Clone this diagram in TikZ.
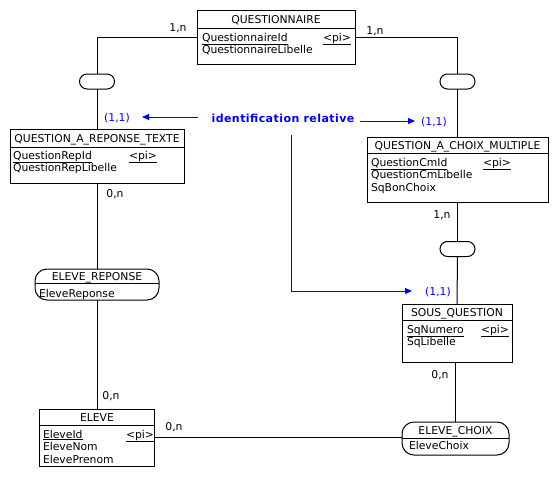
\documentclass[tikz,border=0pt]{standalone}
\usepackage{fontspec}
\setmainfont{DejaVu Sans}
\usetikzlibrary{arrows.meta}
\definecolor{idblue}{RGB}{0,0,255}
\begin{document}
\begin{tikzpicture}[x=1pt,y=-1pt,line width=1pt,
  every node/.style={font=\fontsize{10.8}{12}\selectfont,inner sep=0pt,outer sep=0pt},
  entbox/.style={draw,rectangle,anchor=north west},
  assoc/.style={draw,rectangle,rounded corners=12pt,anchor=north west},
  pill/.style={draw,rectangle,rounded corners=7.5pt,minimum width=35pt,minimum height=15pt},
  ttl/.style={anchor=base},
  attr/.style={anchor=base west},
  card/.style={anchor=base},
  bcard/.style={anchor=base,text=idblue},
  barrow/.style={draw=idblue,-{Triangle[length=7pt,width=6pt]}},
  bline/.style={draw=idblue}]
\useasboundingbox (0,0) rectangle (560,477);

% QUESTIONNAIRE
\node[entbox,minimum width=158pt,minimum height=54pt] (qn) at (197,10) {};
\draw (qn.west |- 0,28) -- (qn.east |- 0,28);
\node[ttl] (qnt) at (qn.center |- 0,23) {QUESTIONNAIRE};
\node[attr] (qna1) at (202,41) {\underline{QuestionnaireId}};
\node[attr] (qna2) at (202,53.5) {QuestionnaireLibelle};
\node[attr] (qnp) at (323,41) {\underline{<pi>}};

% QUESTION_A_REPONSE_TEXTE
\node[entbox,minimum width=174pt,minimum height=54pt] (qart) at (10,129) {};
\draw (qart.west |- 0,147) -- (qart.east |- 0,147);
\node[ttl] (qartt) at (qart.center |- 0,142) {QUESTION\_A\_REPONSE\_TEXTE};
\node[attr] (qarta1) at (13,159) {\underline{QuestionRepId}};
\node[attr] (qarta2) at (13,171.5) {QuestionRepLibelle};
\node[attr] (qartp) at (129,159) {\underline{<pi>}};

% QUESTION_A_CHOIX_MULTIPLE
\node[entbox,minimum width=181pt,minimum height=65pt] (qcm) at (367,137) {};
\draw (qcm.west |- 0,153) -- (qcm.east |- 0,153);
\node[ttl] (qcmt) at (qcm.center |- 0,149) {QUESTION\_A\_CHOIX\_MULTIPLE};
\node[attr] (qcma1) at (371,166) {\underline{QuestionCmId}};
\node[attr] (qcma2) at (371,178.5) {QuestionCmLibelle};
\node[attr] (qcma3) at (371,191) {SqBonChoix};
\node[attr] (qcmp) at (483,166) {\underline{<pi>}};

% SOUS_QUESTION
\node[entbox,minimum width=110pt,minimum height=58pt] (sq) at (402,304) {};
\draw (sq.west |- 0,320) -- (sq.east |- 0,320);
\node[ttl] (sqt) at (sq.center |- 0,316) {SOUS\_QUESTION};
\node[attr] (sqa1) at (407,333) {\underline{SqNumero}};
\node[attr] (sqa2) at (407,345.5) {SqLibelle};
\node[attr] (sqp) at (481,333) {\underline{<pi>}};

% ELEVE
\node[entbox,minimum width=115pt,minimum height=57pt] (el) at (39.5,409) {};
\draw (el.west |- 0,425) -- (el.east |- 0,425);
\node[ttl] (elt) at (el.center |- 0,421) {ELEVE};
\node[attr] (ela1) at (43,438) {\underline{EleveId}};
\node[attr] (ela2) at (43,450.5) {EleveNom};
\node[attr] (ela3) at (43,463) {ElevePrenom};
\node[attr] (elp) at (126,438) {\underline{<pi>}};

% ELEVE_REPONSE
\node[assoc,minimum width=124pt,minimum height=31pt] (er) at (35,269) {};
\draw (er.west |- 0,283) -- (er.east |- 0,283);
\node[ttl] (ert) at (er.center |- 0,280) {ELEVE\_REPONSE};
\node[attr] (era1) at (39,297) {EleveReponse};

% ELEVE_CHOIX
\node[assoc,minimum width=107pt,minimum height=33pt] (ec) at (402,422) {};
\draw (ec.west |- 0,438) -- (ec.east |- 0,438);
\node[ttl] (ect) at (ec.center |- 0,434) {ELEVE\_CHOIX};
\node[attr] (eca1) at (409,449) {EleveChoix};

% pills (relative identification links)
\node[pill] (p1) at (97,81.5) {};
\node[pill] (p2) at (457.5,81.5) {};
\node[pill] (p3) at (457.5,249) {};

% connectors
\draw (qn.west) -| (p1.north);
\draw (p1.south) -- (qart.north);
\draw (qart.south) -- (er.north);
\draw (er.south) -- (el.north);
\draw (el.east) -- (el.east -| ec.west);
\draw (qn.east) -| (p2.north);
\draw (p2.south) -- (qcm.north);
\draw (qcm.south) -- (p3.north);
\draw (p3.south) -- (sq.north);
\draw (ec.north) -- (ec.north |- sq.south);

% cardinalities
\node[card] (c1) at (178,31) {1,n};
\node[card] (c2) at (375,34) {1,n};
\node[card] (c3) at (115,197) {0,n};
\node[card] (c4) at (442,218) {1,n};
\node[card] (c5) at (440,378) {0,n};
\node[card] (c6) at (111,399) {0,n};
\node[card] (c7) at (174,430) {0,n};
\node[bcard] (b1) at (117,121) {(1,1)};
\node[bcard] (b2) at (434,125) {(1,1)};
\node[bcard] (b3) at (438,295) {(1,1)};

% identification relative annotation
\node[text=idblue,font=\bfseries\fontsize{11}{12}\selectfont\addfontfeature{LetterSpace=4}] (idr) at (283,118) {identification relative};
\coordinate (l0) at (198,117);
\coordinate (l1) at (142,117);
\coordinate (r0) at (360,121);
\coordinate (r1) at (415,121);
\coordinate (v0) at (291,135);
\coordinate (v1) at (412,291);
\draw[barrow] (l0) -- (l1);
\draw[barrow] (r0) -- (r1);
\draw[barrow] (v0) |- (v1);
\end{tikzpicture}
\end{document}
